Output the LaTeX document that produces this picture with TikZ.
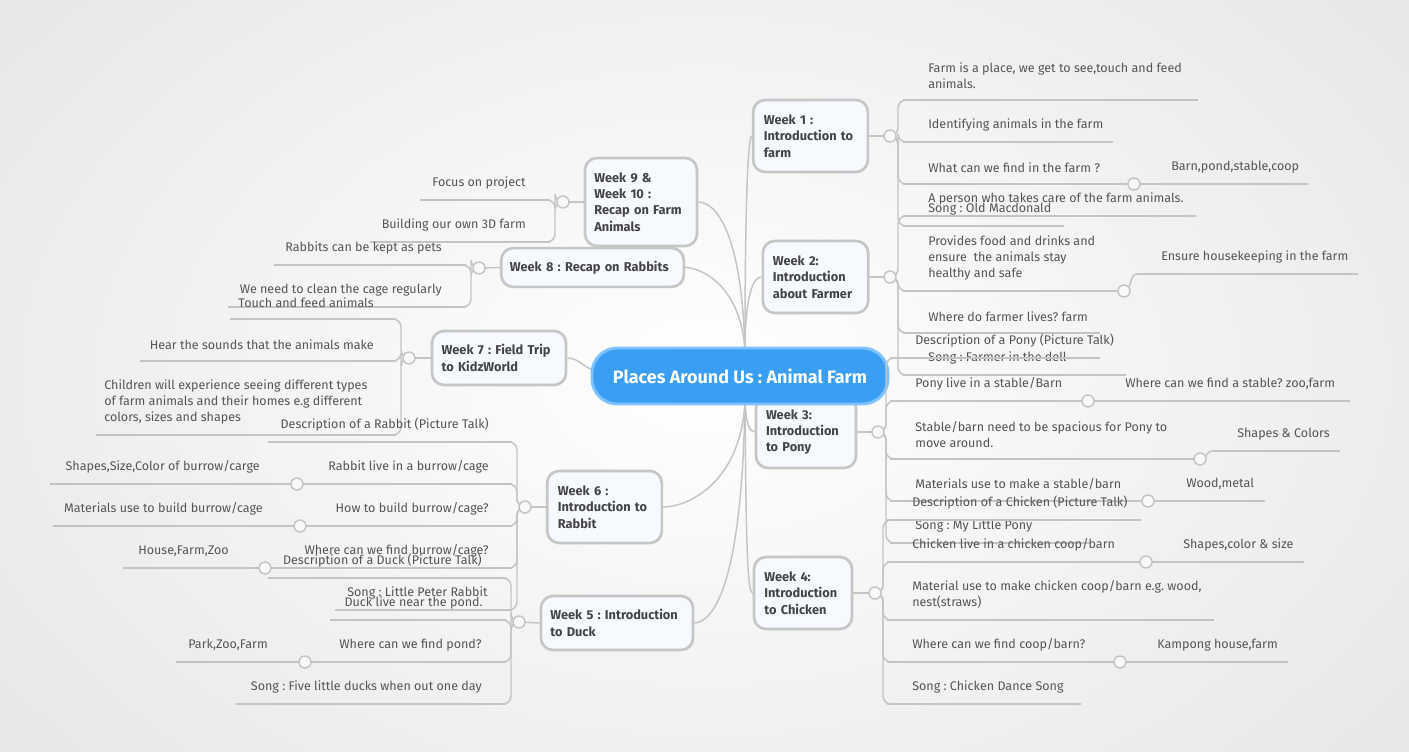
\documentclass[tikz,border=0pt]{standalone}
\usepackage{fontspec}
\setmainfont{Fira Sans}
\hyphenpenalty=10000
\exhyphenpenalty=10000
\frenchspacing
\definecolor{txt}{HTML}{555555}
\definecolor{lnc}{HTML}{C4C4C4}
\definecolor{bgo}{HTML}{E2E4E6}
\definecolor{cblue}{HTML}{3A9EF2}
\definecolor{cbord}{HTML}{7DC2FF}
\definecolor{wkfill}{HTML}{F6F9FE}
\definecolor{wkbord}{HTML}{C6C6C6}
\newcommand\leafR[6]{\node[leaf,anchor=south west,align=left] (#1) at (#2,#3-11) {#6};
 \coordinate (#1s) at (#4,#3); \coordinate (#1e) at (#5,#3); \draw[ln] (#1s) -- (#1e);}
\newcommand\leafL[6]{\node[leaf,anchor=south east,align=right] (#1) at (#2,#3-11) {#6};
 \coordinate (#1s) at (#5,#3); \coordinate (#1e) at (#4,#3); \draw[ln] (#1s) -- (#1e);}
\newcommand\brR[2]{\draw[ln,rounded corners=6] (#1) -- ++(8,0) |- (#2s);}
\newcommand\brL[2]{\draw[ln,rounded corners=6] (#1) -- ++(-8,0) |- (#2s);}
\newcommand\gbr[2]{\draw[ln] (#1) .. controls +(8,0) and +(-8,0) .. (#2s);}
\newcommand\gbl[2]{\draw[ln] (#1) .. controls +(-8,0) and +(8,0) .. (#2s);}
\begin{document}
\begin{tikzpicture}[x=0.75pt,y=-0.75pt,
 leaf/.style={inner sep=0pt,text=txt,font=\fontsize{9.4}{12}\selectfont},
 ln/.style={draw=lnc,line width=1.1pt},
 dot/.style={circle,draw=lnc,line width=1.1pt,fill=white!95!gray,minimum size=9pt,inner sep=0pt},
 wk/.style={rounded corners=9pt,draw=wkbord,line width=2pt,fill=wkfill,text=txt!80!black,
   font=\bfseries\fontsize{9.6}{12.2}\selectfont,align=left,inner sep=0pt}]
\useasboundingbox (0,0) rectangle (1409,752);
\shade[inner color=white,outer color=bgo] (-300,-300) rectangle (1709,1052);
% nodes
\node[wk,minimum width=86pt,minimum height=54pt,text width=70pt] (w1) at (810.5,136) {Week 1 :\\Introduction to\\farm};
\node[wk,minimum width=79pt,minimum height=54pt,text width=64pt] (w2) at (815.5,277) {Week 2:\\Introduction\\about Farmer};
\node[wk,minimum width=75pt,minimum height=54pt,text width=60pt] (w3) at (806,432) {Week 3:\\Introduction\\to Pony};
\node[wk,minimum width=73.5pt,minimum height=54pt,text width=58pt] (w4) at (803,593) {Week 4:\\Introduction\\to Chicken};
\node[wk,minimum width=114pt,minimum height=40.5pt,text width=100pt] (w5) at (617,623) {Week 5 : Introduction\\to Duck};
\node[wk,minimum width=86pt,minimum height=54pt,text width=70pt] (w6) at (604.5,507) {Week 6 :\\Introduction to\\Rabbit};
\node[wk,minimum width=100.5pt,minimum height=40.5pt,text width=86pt] (w7) at (499,358) {Week 7 : Field Trip\\to KidzWorld};
\node[wk,minimum width=137pt,minimum height=29pt,text width=124pt] (w8) at (592.5,267.5) {Week 8 : Recap on Rabbits};
\node[wk,minimum width=84pt,minimum height=66pt,text width=70pt] (w9) at (641,202) {Week 9 \&\\Week 10 :\\Recap on Farm\\Animals};
% circles
\coordinate (c1) at (890,136); \coordinate (c2) at (890,277); \coordinate (c3) at (878,432);
\coordinate (c4) at (875,593); \coordinate (c5) at (519,622); \coordinate (c6) at (525,507);
\coordinate (c7) at (409,358); \coordinate (c8) at (479,268); \coordinate (c9) at (563,202);
% center connectors
\coordinate (ct) at (745,352); \coordinate (cb) at (745,400);
\draw[ln] (ct) .. controls (745,200) and (748,136) .. (w1.west);
\draw[ln] (ct) .. controls (745,300) and (752,277) .. (w2.west);
\draw[ln] (cb) .. controls (746,425) and (750,432) .. (w3.west);
\draw[ln] (cb) .. controls (746,560) and (748,593) .. (w4.west);
\draw[ln] (ct) .. controls (742,230) and (715,202) .. (w9.east);
\draw[ln] (ct) .. controls (742,290) and (705,268) .. (w8.east);
\draw[ln] (600,372) .. controls (585,370) and (580,358) .. (w7.east);
\draw[ln] (cb) .. controls (742,480) and (690,507) .. (w6.east);
\draw[ln] (cb) .. controls (742,590) and (712,622) .. (w5.east);
\node[rounded corners=19pt,draw=cbord,line width=2.2pt,fill=cblue,text=white,
  font=\bfseries\fontsize{13.5}{16}\selectfont,minimum width=222pt,minimum height=42pt] (ctr) at (740,376) {Places Around Us : Animal Farm};
% box-to-circle
\foreach \w/\c in {w1/c1,w2/c2,w3/c3,w4/c4}{\draw[ln] (\w.east) -- (\c);}
\foreach \w/\c in {w5/c5,w6/c6,w7/c7,w8/c8,w9/c9}{\draw[ln] (\w.west) -- (\c);}
% Week 1
\leafR{a1}{928}{100}{903}{1198}{Farm is a place, we get to see,touch and feed\\animals.}
\leafR{a2}{928}{142}{903}{1113}{Identifying animals in the farm}
\leafR{a3}{928}{184}{903}{1134}{What can we find in the farm ?}
\leafR{a4}{928}{226}{903}{1064}{Song : Old Macdonald}
\foreach \l in {a1,a2,a3,a4}{\brR{c1}{\l}}
\coordinate (g1) at (1134,184);
\leafR{ga3}{1171}{184}{1147}{1308}{Barn,pond,stable,coop}
\gbr{g1}{ga3}
% Week 2
\leafR{b1}{928}{216}{903}{1196}{A person who takes care of the farm animals.}
\leafR{b2}{928}{291}{903}{1124}{Provides food and drinks and\\ensure\ \ the animals stay\\healthy and safe}
\leafR{b3}{928}{333}{903}{1100}{Where do farmer lives? farm}
\leafR{b4}{928}{375}{903}{1126}{Song : Farmer in the dell}
\foreach \l in {b1,b2,b3,b4}{\brR{c2}{\l}}
\coordinate (g2) at (1124,291);
\leafR{gb2}{1161}{274}{1137}{1358}{Ensure housekeeping in the farm}
\gbr{g2}{gb2}
% Week 3
\leafR{p1}{915}{358}{890}{1100}{Description of a Pony (Picture Talk)}
\leafR{p2}{915}{401}{890}{1088}{Pony live in a stable/Barn}
\leafR{p3}{915}{459}{890}{1200}{Stable/barn need to be spacious for Pony to\\move around.}
\leafR{p4}{915}{501}{890}{1148}{Materials use to make a stable/barn}
\leafR{p5}{915}{543}{890}{1090}{Song : My Little Pony}
\foreach \l in {p1,p2,p3,p4,p5}{\brR{c3}{\l}}
\coordinate (g3) at (1088,401); \coordinate (g4) at (1200,459); \coordinate (g5) at (1148,501);
\leafR{gp2}{1125}{401}{1101}{1350}{Where can we find a stable? zoo,farm}
\leafR{gp3}{1237}{451}{1213}{1340}{Shapes \& Colors}
\leafR{gp4}{1186}{501}{1161}{1265}{Wood,metal}
\gbr{g3}{gp2}\gbr{g4}{gp3}\gbr{g5}{gp4}
% Week 4
\leafR{k1}{912}{520}{887}{1141}{Description of a Chicken (Picture Talk)}
\leafR{k2}{912}{562}{887}{1146}{Chicken live in a chicken coop/barn}
\leafR{k3}{912}{620}{887}{1214}{Material use to make chicken coop/barn e.g. wood,\\nest(straws)}
\leafR{k4}{912}{662}{887}{1120}{Where can we find coop/barn?}
\leafR{k5}{912}{704}{887}{1081}{Song : Chicken Dance Song}
\foreach \l in {k1,k2,k3,k4,k5}{\brR{c4}{\l}}
\coordinate (g6) at (1146,562); \coordinate (g7) at (1120,662);
\leafR{gk2}{1183}{562}{1159}{1304}{Shapes,color \& size}
\leafR{gk4}{1157}{662}{1133}{1288}{Kampong house,farm}
\gbr{g6}{gk2}\gbr{g7}{gk4}
% Week 9
\leafL{n1}{526}{200}{420}{550}{Focus on project}
\leafL{n2}{526}{242}{370}{550}{Building our own 3D farm}
\foreach \l in {n1,n2}{\brL{c9}{\l}}
% Week 8
\leafL{e1}{442}{265}{274}{466}{Rabbits can be kept as pets}
\leafL{e2}{442}{307}{228}{466}{We need to clean the cage regularly}
\foreach \l in {e1,e2}{\brL{c8}{\l}}
% Week 7
\leafL{s1}{374}{319}{230}{396}{Touch and feed animals}
\leafL{s2}{374}{361}{140}{396}{Hear the sounds that the animals make}
\node[leaf,anchor=south west,align=left] (s3) at (104,435-11) {Children will experience seeing different types\\of farm animals and their homes e.g different\\colors, sizes and shapes};
\coordinate (s3s) at (396,435); \draw[ln] (96,435) -- (s3s);
\foreach \l in {s1,s2,s3}{\brL{c7}{\l}}
% Week 6
\leafL{r1}{489}{442}{268}{512}{Description of a Rabbit (Picture Talk)}
\leafL{r2}{489}{484}{310}{512}{Rabbit live in a burrow/cage}
\leafL{r3}{489}{526}{313}{512}{How to build burrow/cage?}
\leafL{r4}{489}{568}{278}{512}{Where can we find burrow/cage?}
\leafL{r5}{488}{610}{335}{512}{Song : Little Peter Rabbit}
\foreach \l in {r1,r2,r3,r4,r5}{\brL{c6}{\l}}
\coordinate (h1) at (297,484); \coordinate (h2) at (300,526); \coordinate (h3) at (265,568);
\leafL{gr2}{260}{484}{50}{284}{Shapes,Size,Color of burrow/carge}
\leafL{gr3}{263}{526}{53}{287}{Materials use to build burrow/cage}
\leafL{gr4}{229}{568}{123}{252}{House,Farm,Zoo}
\draw[ln] (r2e) -- (h1) (r3e) -- (h2) (r4e) -- (h3);
\gbl{h1}{gr2}\gbl{h2}{gr3}\gbl{h3}{gr4}
% Week 5
\leafL{d1}{482}{578}{268}{506}{Description of a Duck (Picture Talk)}
\leafL{d2}{483}{620}{330}{506}{Duck live near the pond.}
\leafL{d3}{482}{662}{318}{506}{Where can we find pond?}
\leafL{d4}{482}{704}{236}{506}{Song : Five little ducks when out one day}
\foreach \l in {d1,d2,d3,d4}{\brL{c5}{\l}}
\coordinate (h4) at (305,662);
\leafL{gd3}{268}{662}{176}{292}{Park,Zoo,Farm}
\draw[ln] (d3e) -- (h4); \gbl{h4}{gd3}
% dots
\foreach \c in {c1,c2,c3,c4,c5,c6,c7,c8,c9,g1,g2,g3,g4,g5,g6,g7,h1,h2,h3,h4}{\node[dot] at (\c) {};}
\end{tikzpicture}
\end{document}
